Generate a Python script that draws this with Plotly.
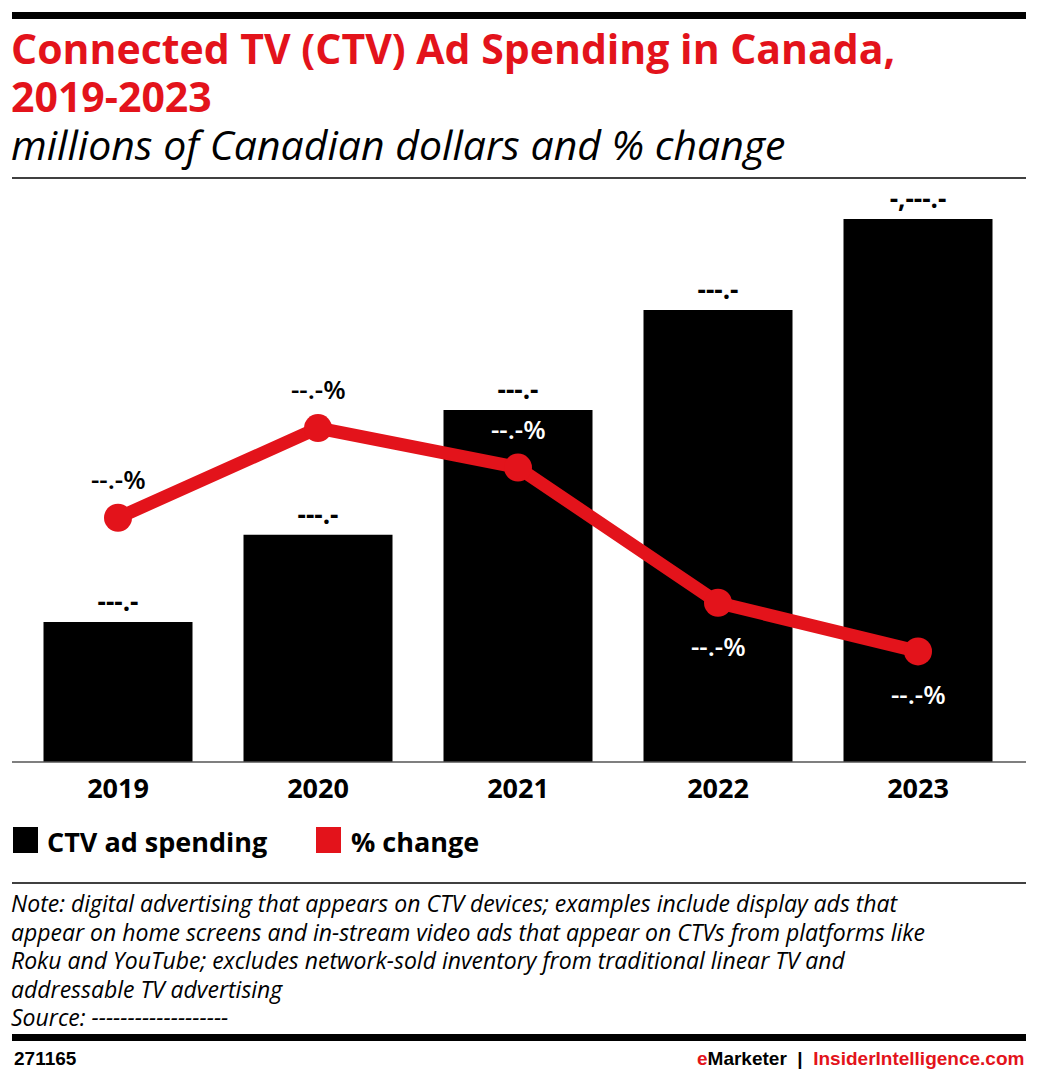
import plotly.graph_objects as go

# ---- data ----
years = ["2019", "2020", "2021", "2022", "2023"]
ctv_spending = [269, 437, 677, 869, 1044]          # millions of CAD (estimated)
pct_change = [44.5, 62.0, 54.3, 27.9, 18.4]        # % change (estimated)
bar_labels = ["---.-", "---.-", "---.-", "---.-", "-,---.-"]
pct_labels = ["--.-%", "--.-%", "--.-%", "--.-%", "--.-%"]
pct_label_above = [True, True, True, False, False]
pct_label_col = ["#000000", "#000000", "#ffffff", "#ffffff", "#ffffff"]

title_lines = ["Connected TV (CTV) Ad Spending in Canada,", "2019-2023"]
subtitle = "millions of Canadian dollars and % change"
note_lines = [
    "Note: digital advertising that appears on CTV devices; examples include display ads that",
    "appear on home screens and in-stream video ads that appear on CTVs from platforms like",
    "Roku and YouTube; excludes network-sold inventory from traditional linear TV and",
    "addressable TV advertising",
    "Source: -------------------",
]

RED = "#E3131B"
W, H = 1038, 1083
L, R_, T, B = 18, 1038 - 1018, 190, 1083 - 762
PW, PH = W - L - R_, H - T - B

def px(x):
    return (x - L) / PW

def py(y):
    return (762 - y) / PH

FONT = "Open Sans"

fig = go.Figure()
fig.add_trace(go.Bar(
    x=years, y=ctv_spending, marker=dict(color="#000000", line=dict(width=0)),
    text=bar_labels, textposition="outside", cliponaxis=False,
    textfont=dict(family=FONT, size=26, color="#000000", weight="bold"),
    name="CTV ad spending", showlegend=False,
))
fig.add_trace(go.Scatter(
    x=years, y=pct_change, yaxis="y2", mode="lines+markers",
    line=dict(color=RED, width=13), marker=dict(color=RED, size=28),
    name="% change", showlegend=False, cliponaxis=False,
))

fig.update_layout(
    width=W, height=H,
    margin=dict(l=L, r=R_, t=T, b=B, pad=0),
    paper_bgcolor="white", plot_bgcolor="white",
    bargap=0.255,
    xaxis=dict(type="category", showgrid=False, showline=False, zeroline=False, ticks="",
               tickfont=dict(family=FONT, size=27, color="#000000", weight="bold"),
               ticklabelstandoff=8, range=[-0.5, 4.5]),
    yaxis=dict(range=[0, 1100], visible=False, showgrid=False, zeroline=False),
    yaxis2=dict(range=[-3.2, 108.5], overlaying="y", visible=False, showgrid=False, zeroline=False),
    font=dict(family=FONT),
)

shapes = [
    dict(type="line", xref="paper", yref="paper", x0=px(12), x1=px(1026), y0=py(15.5), y1=py(15.5),
         line=dict(color="#000000", width=7)),
    dict(type="line", xref="paper", yref="paper", x0=px(12), x1=px(1026), y0=py(178), y1=py(178),
         line=dict(color="#000000", width=1.5)),
    dict(type="line", xref="paper", yref="paper", x0=px(12), x1=px(1026), y0=py(762), y1=py(762),
         line=dict(color="#555555", width=1.5)),
    dict(type="line", xref="paper", yref="paper", x0=px(12), x1=px(1026), y0=py(883), y1=py(883),
         line=dict(color="#000000", width=1.5)),
    dict(type="line", xref="paper", yref="paper", x0=px(12), x1=px(1026), y0=py(1037.5), y1=py(1037.5),
         line=dict(color="#000000", width=7)),
    # legend swatches
    dict(type="rect", xref="paper", yref="paper", x0=px(13), x1=px(38), y0=py(853), y1=py(827),
         fillcolor="#000000", line=dict(width=0)),
    dict(type="rect", xref="paper", yref="paper", x0=px(316), x1=px(341), y0=py(853), y1=py(827),
         fillcolor=RED, line=dict(width=0)),
]

def ann(text, x, y, size, color="#000000", xanchor="left", yanchor="middle", family=FONT):
    return dict(text=text, x=px(x), y=py(y), xref="paper", yref="paper",
                xanchor=xanchor, yanchor=yanchor, showarrow=False,
                font=dict(family=family, size=size, color=color), align="left")

head = ("<b><span style='color:%s;font-size:41px'>%s</span></b><br>"
        "<b><span style='color:%s;font-size:41px'>%s</span></b><br>"
        "<i><span style='font-size:41px'>%s</span></i>") % (RED, title_lines[0], RED, title_lines[1], subtitle)
note = "<br>".join("<i><span style='font-size:23px'>%s</span></i>" % l for l in note_lines)

annotations = [
    ann(head, 9, 96, 37),
    ann("<b>CTV ad spending</b>", 45, 841, 27),
    ann("<b>% change</b>", 349, 841, 27),
    ann("<b>271165</b>", 12, 1058, 19, family="Liberation Sans"),
    ann("<b><span style='color:%s'>e</span>Marketer  |  <span style='color:%s'>InsiderIntelligence.com</span></b>" % (RED, RED),
        1026, 1058, 19, xanchor="right", family="Liberation Sans"),
    ann(note, 9, 960, 22),
]

# percent-change labels attached to the line points (category index on x)
for i, (v, lab, above, col) in enumerate(zip(pct_change, pct_labels, pct_label_above, pct_label_col)):
    annotations.append(dict(
        x=i, y=v, xref="x", yref="y2", text=lab, showarrow=False,
        yshift=39 if above else -43, xanchor="center", yanchor="middle",
        font=dict(family=FONT, size=26, color=col, weight=600),
    ))

fig.update_layout(shapes=shapes, annotations=annotations)
fig.write_html("out.html")
